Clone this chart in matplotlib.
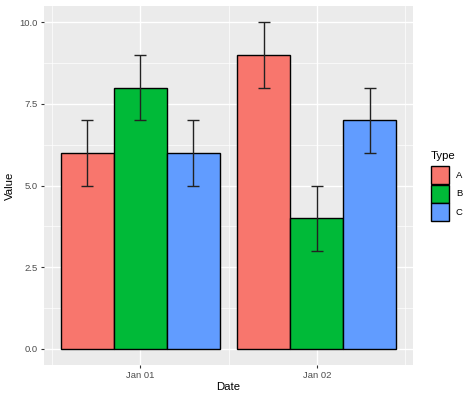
import matplotlib
matplotlib.use("Agg")
import matplotlib.pyplot as plt
import numpy as np
from matplotlib.patches import Rectangle

plt.rcParams['font.family'] = ['Liberation Sans', 'DejaVu Sans']

dates = ["Jan 01", "Jan 02"]
types = ["A", "B", "C"]
values = {"A": [6, 9], "B": [8, 4], "C": [6, 7]}
errors = {"A": [1, 1], "B": [1, 1], "C": [1, 1]}
colors = {"A": "#F8766D", "B": "#00BA38", "C": "#619CFF"}
yticks = [0.0, 2.5, 5.0, 7.5, 10.0]

W, H = 474, 399
fig = plt.figure(figsize=(W/100, H/100), dpi=100)
ax = fig.add_axes([44/W, 34/H, 369/W, 359/H])
ax.set_facecolor("#EBEBEB")
for s in ax.spines.values():
    s.set_visible(False)

x = np.arange(len(dates))
total_w = 0.9
w = total_w / len(types)
for i, t in enumerate(types):
    xs = x - total_w/2 + w/2 + i*w
    ax.bar(xs, values[t], width=w, color=colors[t], edgecolor="black", linewidth=1.0, zorder=3)
    ax.errorbar(xs, values[t], yerr=errors[t], fmt="none", ecolor="#222222",
                elinewidth=1.0, capsize=4.3, capthick=1.0, zorder=4)

ax.set_xlim(-0.545, 1.545)
ax.set_ylim(-0.5, 10.5)
ax.set_xticks(x)
ax.set_xticklabels(dates)
ax.set_yticks(yticks)
ax.set_yticklabels([f"{v:.1f}" for v in yticks])
ax.set_xticks([-0.5, 0.5, 1.5], minor=True)
ax.set_yticks([1.25, 3.75, 6.25, 8.75], minor=True)
ax.grid(which="major", color="white", linewidth=1.0, zorder=0)
ax.grid(which="minor", color="white", linewidth=0.5, zorder=0)
ax.set_axisbelow(True)
ax.tick_params(which="major", length=2.5, width=0.8, color="#333333", labelsize=6.8,
               labelcolor="#4D4D4D", pad=2)
ax.tick_params(which="minor", length=0)
ax.set_xlabel("Date", fontsize=8.2, labelpad=1.5)
ax.set_ylabel("Value", fontsize=8.2, labelpad=3)

# manual ggplot-style legend (pixel coords from top-left)
def fx(px):
    return px / W
def fy(py):
    return 1 - py / H

fig.text(fx(431), fy(158.5), "Type", fontsize=8.2, ha="left", va="baseline")
key = 18.0
step = 18.7
top0 = 166.0
for i, t in enumerate(types):
    top = top0 + i * step
    fig.add_artist(Rectangle((fx(431), fy(top + key)), key / W, key / H,
                             transform=fig.transFigure, facecolor=colors[t],
                             edgecolor="black", linewidth=1.0))
    fig.text(fx(456), fy(top + key / 2), t, fontsize=6.8, ha="left", va="center")

fig.savefig("out.png", dpi=100)
